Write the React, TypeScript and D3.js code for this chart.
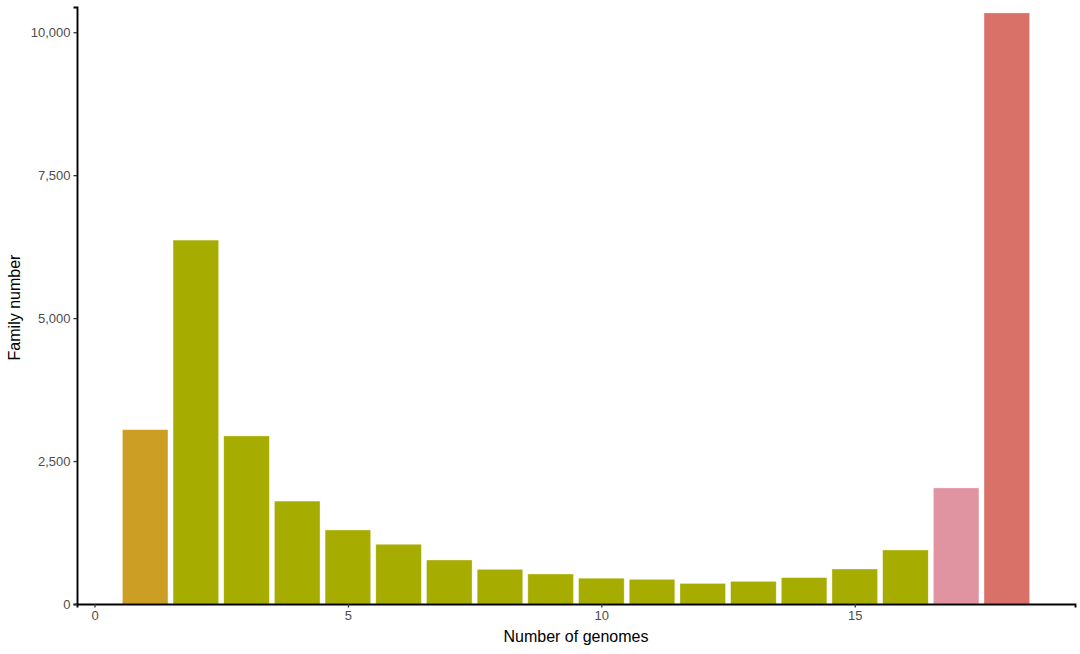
import React, { useEffect, useRef } from 'react';
import * as d3 from 'd3';

const genomes = [1, 2, 3, 4, 5, 6, 7, 8, 9, 10, 11, 12, 13, 14, 15, 16, 17, 18];
const families = [3050, 6365, 2940, 1800, 1295, 1045, 770, 607, 525, 452, 432, 360, 397, 462, 612, 945, 2030, 10338];
const groups = ['cloud', 'shell', 'shell', 'shell', 'shell', 'shell', 'shell', 'shell', 'shell', 'shell', 'shell', 'shell', 'shell', 'shell', 'shell', 'shell', 'softcore', 'core'];
const groupNames = ['cloud', 'shell', 'softcore', 'core'];
const groupColors = ['#CC9E24', '#A7AD00', '#E093A0', '#D97168'];
const xTicks = [0, 5, 10, 15];
const yTicks = [0, 2500, 5000, 7500, 10000];

const W = 1080;
const H = 654;

const App: React.FC = () => {
  const svgRef = useRef<SVGSVGElement>(null);

  useEffect(() => {
    if (!svgRef.current) return;
    const svg = d3.select(svgRef.current);
    svg.selectAll('*').remove();

    const left = 77;
    const right = 1075;
    const top = 7;
    const bottom = 604;
    const barW = 0.9;

    const xMin = 1 - barW / 2;
    const xMax = 18 + barW / 2;
    const pad = (xMax - xMin) * 0.05;
    const x = d3.scaleLinear().domain([xMin - pad, xMax + pad]).range([left, right]);
    const y = d3.scaleLinear().domain([0, d3.max(families)! * 1.01]).range([bottom, top]);
    const color = d3.scaleOrdinal<string, string>().domain(groupNames).range(groupColors);

    svg.append('g')
      .selectAll('rect')
      .data(genomes)
      .join('rect')
      .attr('x', d => x(d - barW / 2))
      .attr('width', x(barW) - x(0))
      .attr('y', (d, i) => y(families[i]))
      .attr('height', (d, i) => y(0) - y(families[i]))
      .attr('fill', (d, i) => color(groups[i]))
      .attr('stroke', '#ffffff')
      .attr('stroke-opacity', 0.6)
      .attr('stroke-width', 0.6);

    const font = 'Liberation Sans, Arial, sans-serif';

    const xAxis = svg.append('g')
      .attr('transform', `translate(0,${bottom})`)
      .call(d3.axisBottom(x).tickValues(xTicks).tickSize(3.5).tickPadding(3).tickFormat(d3.format('d')));
    xAxis.select('.domain').attr('stroke', '#000').attr('stroke-width', 1.9);
    xAxis.selectAll('.tick line').attr('stroke', '#333').attr('stroke-width', 1.3);
    xAxis.selectAll('.tick text').attr('fill', '#4D4D4D').attr('font-size', 13).attr('font-family', font);

    const yAxis = svg.append('g')
      .attr('transform', `translate(${left},0)`)
      .call(d3.axisLeft(y).tickValues(yTicks).tickSize(3.5).tickPadding(3).tickFormat(d3.format(',')));
    yAxis.select('.domain').attr('stroke', '#000').attr('stroke-width', 1.9);
    yAxis.selectAll('.tick line').attr('stroke', '#333').attr('stroke-width', 1.3);
    yAxis.selectAll('.tick text').attr('fill', '#4D4D4D').attr('font-size', 13).attr('font-family', font);

    svg.append('text')
      .attr('x', (left + right) / 2)
      .attr('y', 642)
      .attr('text-anchor', 'middle')
      .attr('font-size', 16)
      .attr('font-family', font)
      .attr('fill', '#000')
      .text('Number of genomes');

    svg.append('text')
      .attr('transform', `translate(20,${(top + bottom) / 2 + 2}) rotate(-90)`)
      .attr('text-anchor', 'middle')
      .attr('font-size', 16)
      .attr('font-family', font)
      .attr('fill', '#000')
      .text('Family number');
  }, []);

  return (
    <svg
      ref={svgRef}
      width={W}
      height={H}
      style={{ position: 'absolute', left: 0, top: 0, background: '#fff' }}
    />
  );
};

export default App;
